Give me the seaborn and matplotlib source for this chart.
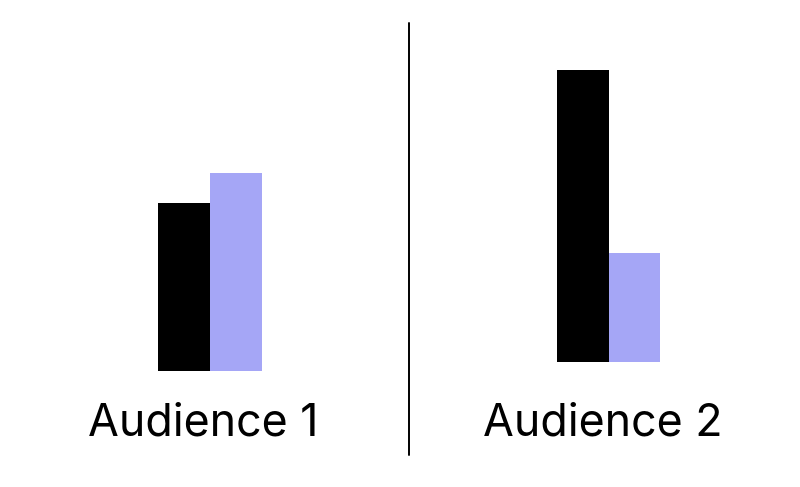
import pandas as pd
import seaborn as sns
import matplotlib.pyplot as plt
from matplotlib.lines import Line2D

groups = ['Audience 1', 'Audience 2']
series = ['A', 'B']
values_1 = [168, 198]
values_2 = [292, 109]
colors = ['#000000', '#A5A6F6']

sns.set_style('white')
plt.rcParams['font.family'] = ['Inter', 'DejaVu Sans']

fig = plt.figure(figsize=(8, 4.87), dpi=100)

# each group gets its own small axes, same y scale
ax1 = fig.add_axes([158 / 800, (487 - 371) / 487, 104 / 800, 300 / 487])
ax2 = fig.add_axes([557 / 800, (487 - 361.7) / 487, 103 / 800, 300 / 487])

for ax, vals, name in [(ax1, values_1, groups[0]), (ax2, values_2, groups[1])]:
    df = pd.DataFrame({'group': [name] * 2, 'series': series, 'value': vals})
    sns.barplot(data=df, x='group', y='value', hue='series', palette=colors,
                saturation=1, width=1, dodge=True, linewidth=0, legend=False, ax=ax)
    ax.set_xlim(-0.5, 0.5)
    ax.set_ylim(0, 300)
    ax.axis('off')

fig.text(203 / 800, (487 - 436) / 487, groups[0], ha='center', va='baseline',
         fontsize=32.2, color='#000000')
fig.text(603 / 800, (487 - 436) / 487, groups[1], ha='center', va='baseline',
         fontsize=32.2, color='#000000')

fig.add_artist(Line2D([409 / 800, 409 / 800], [1 - 23 / 487, 1 - 455 / 487],
                      transform=fig.transFigure, color='#000000', lw=1.4))

fig.savefig('out.png', dpi=100)
